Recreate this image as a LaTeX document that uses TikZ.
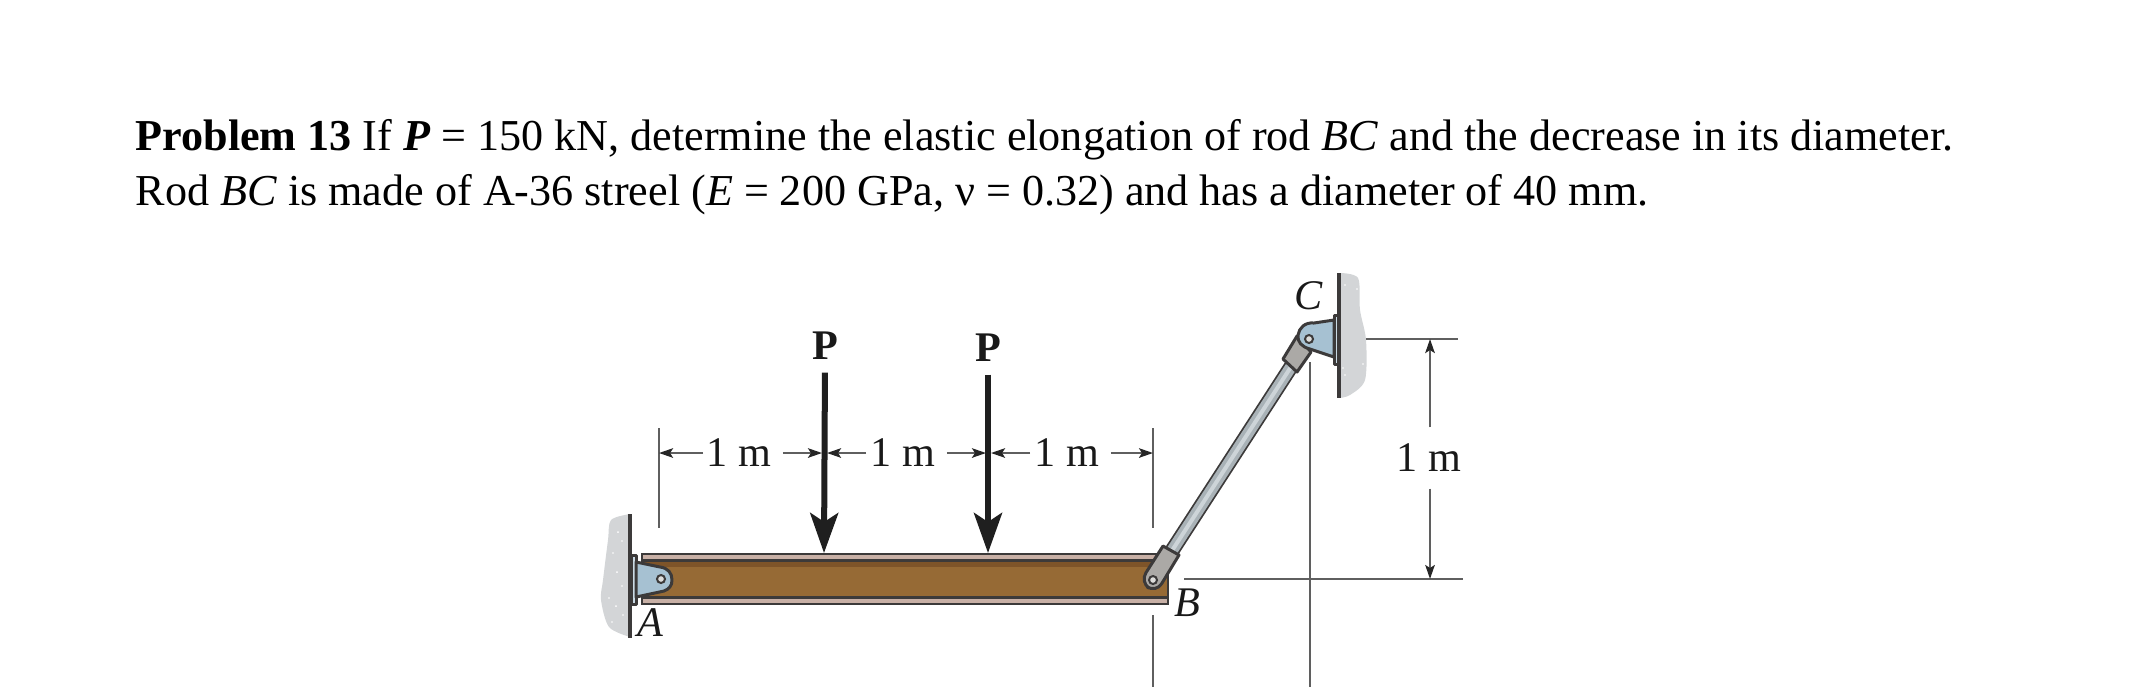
\documentclass[tikz,border=0pt]{standalone}
\usepackage{fontspec}
\setmainfont{Liberation Serif}
\usepackage{tikz}
\usetikzlibrary{arrows.meta}
\definecolor{wallgray}{HTML}{D3D5D7}
\definecolor{webbrown}{HTML}{966A35}
\definecolor{bandbrown}{HTML}{7E5429}
\definecolor{flangepink}{HTML}{C8B0A6}
\definecolor{edgegray}{HTML}{3C3A3A}
\definecolor{bracketblue}{HTML}{A6C1D2}
\definecolor{clevisgray}{HTML}{ABA9A6}
\definecolor{rodgray}{HTML}{A9B2B7}
\definecolor{rodlight}{HTML}{CDD4D8}
\definecolor{dimgray}{HTML}{5F5F5F}
\tikzset{
  problemtext/.style={anchor=base west, inner sep=0, font=\fontsize{12.55}{14}\selectfont},
  figlabel/.style={inner sep=0, text=black!90, font=\fontsize{12}{14}\selectfont},
  dimlabel/.style={figlabel, inner xsep=.4mm, inner ysep=1.2mm},
  extline/.style={draw=dimgray, line width=.22mm},
  dimline/.style={extline, -{Stealth[length=1.4mm, width=.95mm, inset=.3mm, color=black!85]}},
  loadarrow/.style={draw=black!88, line width=.6mm, shorten <=1.2mm,
    -{Stealth[length=4mm, width=2.8mm, inset=.9mm]}},
  wallline/.style={draw=edgegray, line width=.4mm},
  steelpart/.style={draw=edgegray, line width=.3mm, line join=round},
  pinhole/.style={draw=edgegray, fill=clevisgray!40, line width=.2mm}
}
\begin{document}
\begin{tikzpicture}[x=0.01cm, y=-0.01cm]
\useasboundingbox (0,0) rectangle (2143,687);
\node[problemtext] (lineOne) at (135,150) {\textbf{Problem 13} If \textbf{\textit{P}} = 150 kN, determine the elastic elongation of rod \textit{BC} and the decrease in its diameter.};
\node[problemtext] (lineTwo) at (135,205) {Rod \textit{BC} is made of A-36 streel (\textit{E} = 200 GPa, ν = 0.32) and has a diameter of 40 mm.};
\fill[wallgray] plot[smooth] coordinates {(630,514) (611,520) (608,540) (603,580) (601,600) (609,627) (630,637)} -- cycle;
\fill[wallgray] plot[smooth] coordinates {(1339,273) (1358,278) (1360,310) (1366,340) (1365,380) (1350,395) (1339,398)} -- cycle;
\fill[white] (618,532) circle[radius=.1mm] (622,541) circle[radius=.08mm] (613,553) circle[radius=.08mm]
 (617,572) circle[radius=.1mm] (622,586) circle[radius=.08mm] (609,598) circle[radius=.08mm]
 (616,606) circle[radius=.1mm] (623,615) circle[radius=.08mm] (612,622) circle[radius=.08mm]
 (1345,285) circle[radius=.08mm] (1357,289) circle[radius=.08mm] (1343,368) circle[radius=.08mm]
 (1363,364) circle[radius=.08mm] (1345,375) circle[radius=.08mm];
\fill[webbrown] (642,553) rectangle (1168,604);
\fill[bandbrown] (642,561) rectangle (1168,567);
\fill[flangepink] (642,554) rectangle (1168,560);
\fill[flangepink] (642,598) rectangle (1168,603);
\draw[edgegray, line width=.25mm] (642,560.5)--(1168,560.5);
\draw[edgegray, line width=.25mm] (642,597.5)--(1168,597.5);
\draw[edgegray, line width=.25mm] (642,554) rectangle (1168,604);
\draw[steelpart, fill=bracketblue!60] (631,555) rectangle (636,604);
\draw[wallline] (630,514)--(630,638);
\draw[steelpart, fill=bracketblue] (636,562)--(660,567) .. controls (668,568) and (672,573) .. (672,580)
 .. controls (672,586) and (669,589) .. (664,591)--(636,597)--cycle;
\draw[pinhole] (661,579) circle[radius=.4mm];
\draw[steelpart, fill=bracketblue!60] (1334,315) rectangle (1339,364);
\draw[wallline] (1339,273)--(1339,398);
\coordinate (pinB) at (1153,580);
\coordinate (pinC) at (1309,339);
\draw[edgegray, line width=1.5mm] (pinB)--(pinC);
\draw[rodgray, line width=1.15mm] (pinB)--(pinC);
\draw[rodlight, line width=.4mm] (pinB)--(pinC);
\draw[steelpart, fill=clevisgray] (1163,546)--(1179,555) {[rounded corners=1.1mm] --(1156,593)--(1140,582)}--cycle;
\draw[pinhole] (pinB) circle[radius=.4mm];
\draw[steelpart, fill=clevisgray] (1283,359)--(1297,372)--(1311,352)--(1297,336)--cycle;
\draw[steelpart, fill=bracketblue] (1334,320)--(1314,323) .. controls (1305,322) and (1299,328) .. (1298,335)
 .. controls (1297,342) and (1302,347) .. (1310,349)--(1334,357)--cycle;
\draw[pinhole] (pinC) circle[radius=.4mm];
\node[figlabel] (labelA) at (650,623) {\textit{A}};
\node[figlabel] (labelB) at (1187,603) {\textit{B}};
\node[figlabel] (labelC) at (1309,296) {\textit{C}};
\node[figlabel] (loadOne) at (825,346) {\textbf{P}};
\node[figlabel] (loadTwo) at (988,348) {\textbf{P}};
\coordinate (tipOne) at (824,553);
\coordinate (tipTwo) at (988,553);
\draw[loadarrow] (loadOne.south)--(tipOne);
\draw[loadarrow] (loadTwo.south)--(tipTwo);
\coordinate (tickA) at (659,428);
\coordinate (tickAend) at (659,528);
\coordinate (tickD) at (1153,428);
\coordinate (tickDend) at (1153,528);
\draw[extline] (tickA)--(tickAend);
\draw[extline] (tickD)--(tickDend);
\node[dimlabel] (spanOne) at (739,453) {1 m};
\node[dimlabel] (spanTwo) at (903,453) {1 m};
\node[dimlabel] (spanThree) at (1067,453) {1 m};
\coordinate (aLeft) at (659,453);
\coordinate (aRight) at (822,453);
\coordinate (bLeft) at (827,453);
\coordinate (bRight) at (986,453);
\coordinate (cLeft) at (991,453);
\coordinate (cRight) at (1153,453);
\draw[dimline, shorten <=-.1mm] (spanOne.west |- aLeft)--(aLeft);
\draw[dimline, shorten <=.7mm] (spanOne.east |- aRight)--(aRight);
\draw[dimline] (spanTwo.west |- bLeft)--(bLeft);
\draw[dimline, shorten <=.7mm] (spanTwo.east |- bRight)--(bRight);
\draw[dimline] (spanThree.west |- cLeft)--(cLeft);
\draw[dimline, shorten <=.7mm] (spanThree.east |- cRight)--(cRight);
\coordinate (beamTickTop) at (1153,615);
\coordinate (beamTickEnd) at (1153,687);
\draw[extline] (beamTickTop)--(beamTickEnd);
\coordinate (rodTickTop) at (1310,362);
\coordinate (rodTickEnd) at (1310,687);
\draw[extline] (rodTickTop)--(rodTickEnd);
\coordinate (levelCstart) at (1366,339);
\coordinate (levelCend) at (1458,339);
\coordinate (levelBstart) at (1184,579);
\coordinate (levelBend) at (1463,579);
\draw[extline] (levelCstart)--(levelCend);
\draw[extline] (levelBstart)--(levelBend);
\node[figlabel, inner ysep=1.6mm] (riseLabel) at (1429,458) {1 m};
\coordinate (riseTop) at (1430,339);
\coordinate (riseEnd) at (1430,579);
\draw[dimline] (riseLabel.north -| riseTop)--(riseTop);
\draw[dimline] (riseLabel.south -| riseEnd)--(riseEnd);
\end{tikzpicture}
\end{document}
